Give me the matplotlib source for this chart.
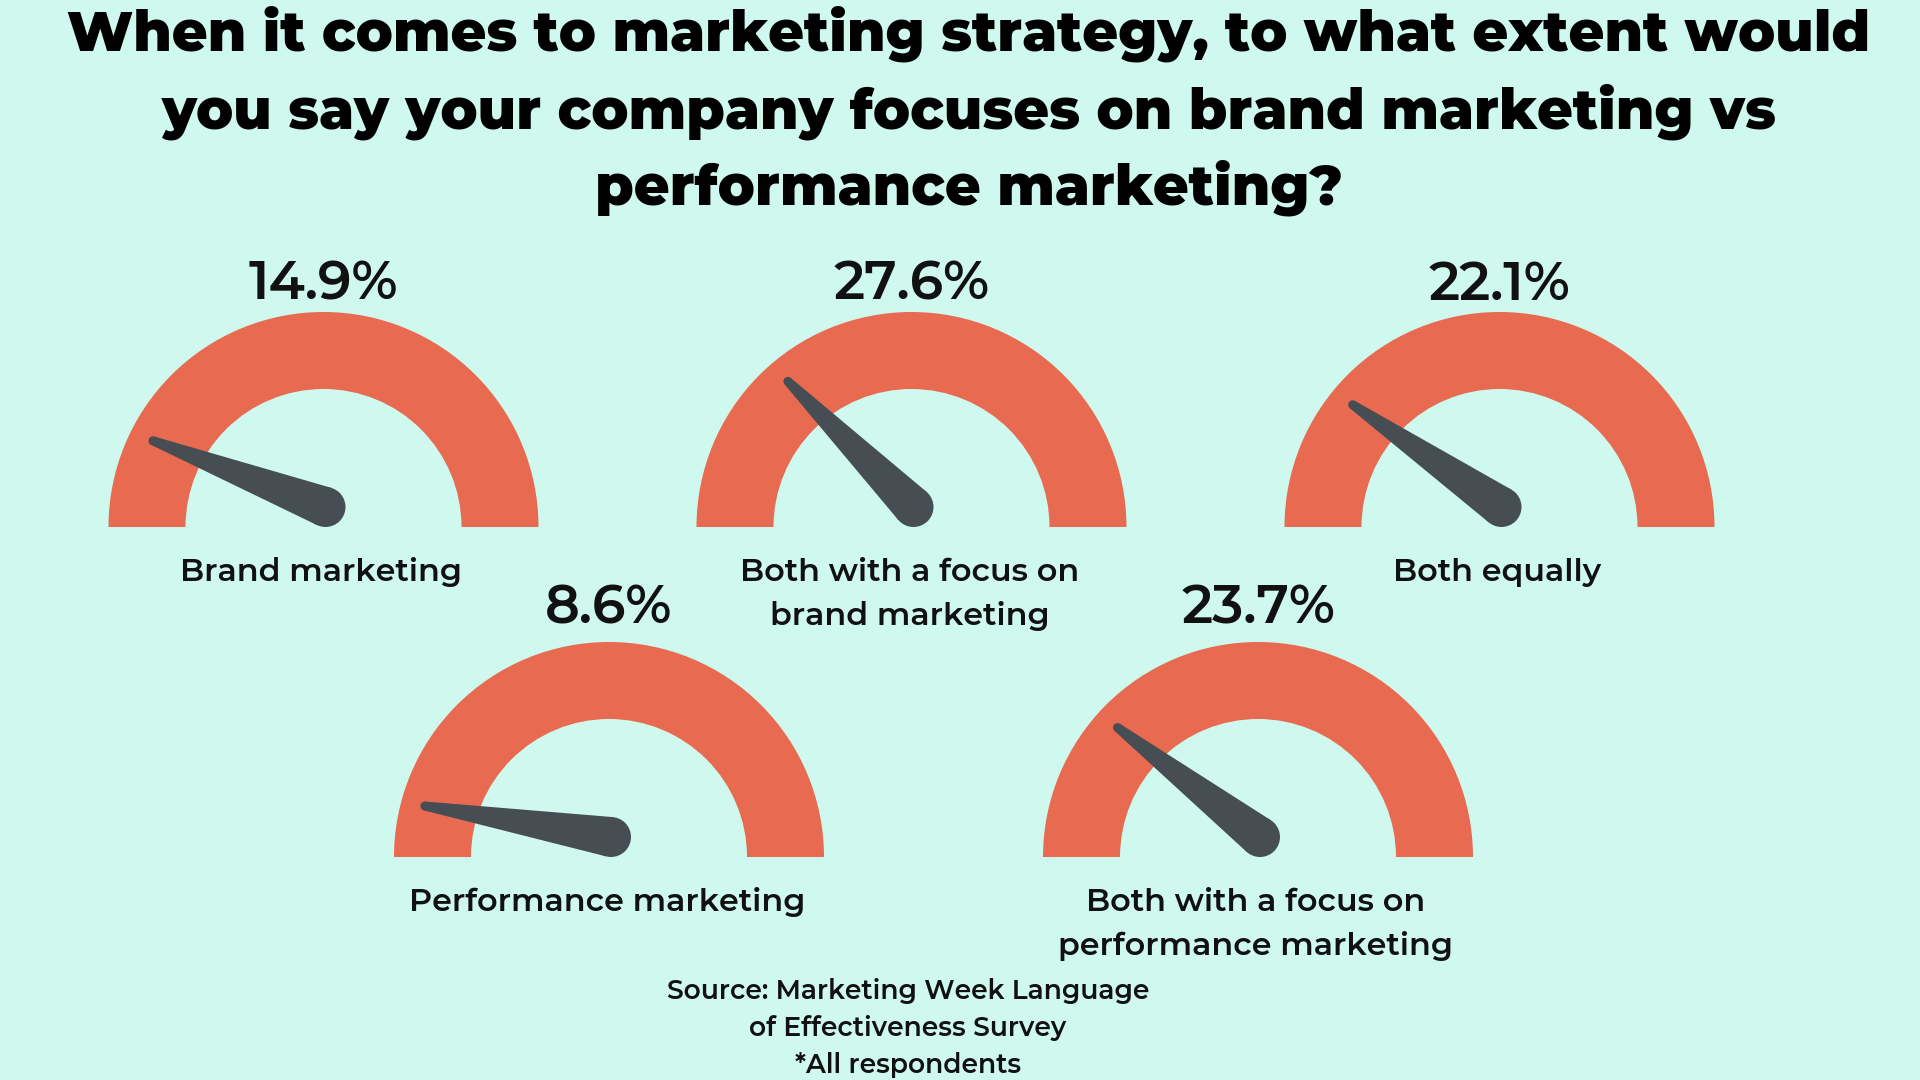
import matplotlib
matplotlib.use("Agg")
import matplotlib.pyplot as plt
from matplotlib import font_manager as fm
from matplotlib.patches import Wedge, Circle, Polygon
import numpy as np

# ---- data ----
categories = ["Brand marketing",
              "Both with a focus on\nbrand marketing",
              "Both equally",
              "Performance marketing",
              "Both with a focus on\nperformance marketing"]
values = [14.9, 27.6, 22.1, 8.6, 23.7]
value_labels = ["14.9%", "27.6%", "22.1%", "8.6%", "23.7%"]
title_lines = ["When it comes to marketing strategy, to what extent would",
               "you say your company focuses on brand marketing vs",
               "performance marketing?"]
source_lines = ["Source: Marketing Week Language",
                "of Effectiveness Survey",
                "*All respondents"]

# ---- layout (pixel coordinates, y downward) ----
centers = [(323.5, 527), (911.5, 527), (1499.5, 527), (609, 857), (1258, 857)]
R_OUT, R_IN = 215, 138
BG = "#CFF9EE"
ORANGE = "#E86A50"
NEEDLE = "#464E54"
TEXT = "#111111"


def make_font(weight, size):
    """Montserrat at a given weight (instancing the variable font if needed)."""
    fp = None
    try:
        from fontTools.ttLib import TTFont
        from fontTools.varLib import instancer
        path = fm.findfont(fm.FontProperties(family='Montserrat', style='normal'),
                           fallback_to_default=False)
        f = TTFont(path)
        if 'fvar' in f:
            ax_ = {a.axisTag: a for a in f['fvar'].axes}
            loc = {}
            if 'wght' in ax_:
                a = ax_['wght']
                loc['wght'] = min(max(weight, a.minValue), a.maxValue)
            if 'ital' in ax_:
                loc['ital'] = 0
            inst = instancer.instantiateVariableFont(f, loc)
            out = f"montserrat_{weight}.ttf"
            inst.save(out)
            fp = fm.FontProperties(fname=out)
        else:
            fp = fm.FontProperties(family='Montserrat', weight=weight)
    except Exception:
        fp = fm.FontProperties(family='DejaVu Sans',
                               weight='bold' if weight >= 600 else 'normal')
    fp.set_size(size)
    return fp


f_title = make_font(850, 39.9)
f_pct = make_font(600, 38.5)
f_lab = make_font(600, 22.9)
f_src = make_font(600, 19.1)

fig = plt.figure(figsize=(19.2, 10.8), dpi=100, facecolor=BG)
ax = fig.add_axes([0, 0, 1, 1])
ax.set_facecolor(BG)
ax.set_xlim(0, 1920)
ax.set_ylim(1080, 0)
ax.set_aspect('equal')
ax.axis('off')

for (cx, cy), val, lab, cat in zip(centers, values, value_labels, categories):
    ax.add_patch(Wedge((cx, cy), R_OUT, 180, 360, width=R_OUT - R_IN,
                       facecolor=ORANGE, edgecolor='none'))
    ang = np.deg2rad(val / 100 * 180)
    tip = np.array([cx - 191 * np.cos(ang), cy - 191 * np.sin(ang)])
    piv = np.array([cx + 2, cy - 20])
    rp, rt = 20, 4.5
    d = tip - piv
    L = np.hypot(*d)
    u = d / L
    n = np.array([-u[1], u[0]])
    s = (rp - rt) / L
    c = np.sqrt(1 - s * s)
    pts = []
    for sign in (1, -1):
        nn = s * u + sign * c * n
        pts.append((piv + rp * nn, tip + rt * nn))
    poly = [pts[0][0], pts[0][1], pts[1][1], pts[1][0]]
    ax.add_patch(Polygon(poly, closed=True, facecolor=NEEDLE, edgecolor='none'))
    ax.add_patch(Circle(piv, rp, facecolor=NEEDLE, edgecolor='none'))
    ax.add_patch(Circle(tip, rt, facecolor=NEEDLE, edgecolor='none'))

    pct_base = cy - 227 if cy < 700 else cy - 233
    ax.text(cx, pct_base, lab, ha='center', va='baseline',
            fontproperties=f_pct, color=TEXT)
    for i, line in enumerate(cat.split("\n")):
        ax.text(cx - 2, cy + 54 + i * 44, line, ha='center', va='baseline',
                fontproperties=f_lab, color=TEXT)

for i, line in enumerate(title_lines):
    ax.text(969, 51 + i * 77, line, ha='center', va='baseline',
            fontproperties=f_title, color='black')

for i, line in enumerate(source_lines):
    ax.text(908, 999 + i * 37, line, ha='center', va='baseline',
            fontproperties=f_src, color=TEXT)

fig.savefig("out.png", dpi=100, facecolor=BG)
